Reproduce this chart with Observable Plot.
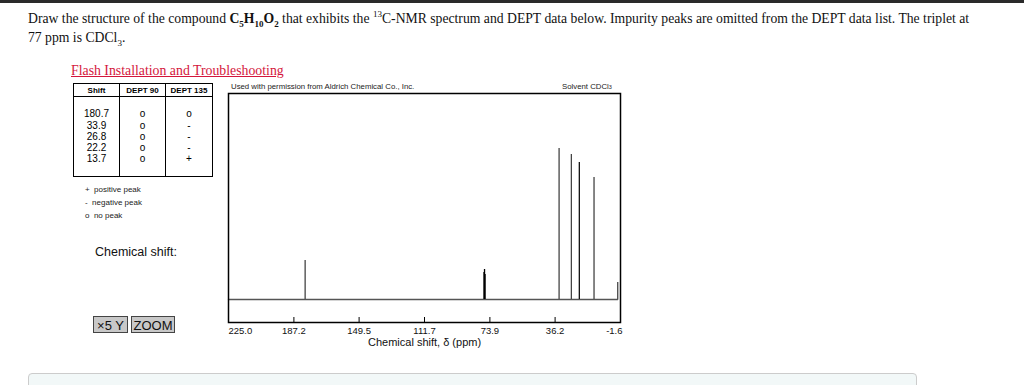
<!DOCTYPE html>
<html><head><meta charset="utf-8">
<script src="https://cdn.jsdelivr.net/npm/d3@7"></script>
<script src="https://cdn.jsdelivr.net/npm/@observablehq/plot@0.6"></script>
<style>
  html,body{margin:0;padding:0;background:#fff;width:1024px;height:385px;overflow:hidden;position:relative;}
  .abs{position:absolute;white-space:nowrap;}
  #topbar{position:absolute;left:0;top:0;width:1024px;height:3px;background:#2a2a2a;}
  .q{font-family:"Liberation Serif","Times New Roman",serif;font-size:13.7px;color:#111;left:28px;}
  #flash{left:71px;top:63px;font-family:"Liberation Serif",serif;font-size:13.8px;color:#d4163c;text-decoration:underline;}
  table.dept{position:absolute;left:73px;top:83px;border-collapse:collapse;font-family:"Liberation Sans",Arial,sans-serif;border:1px solid #000;}
  table.dept th{font-size:8px;font-weight:bold;height:12px;padding:0;border:1px solid #000;}
  table.dept td{font-size:10px;text-align:center;padding:0;height:11.3px;line-height:11.3px;border-left:1px solid #000;border-right:1px solid #000;}
  .leg{font-family:"Liberation Sans",Arial,sans-serif;font-size:8px;color:#222;left:85px;}
  #cs{left:95px;top:245px;font-family:"Liberation Sans",Arial,sans-serif;font-size:12.5px;color:#111;}
  .btn{position:absolute;top:316px;height:17px;line-height:17px;background:#c8c8c8;border:1px solid #444;font-family:"Liberation Sans",Arial,sans-serif;font-size:13px;text-align:center;color:#111;box-sizing:border-box;}
  .small{font-family:"Liberation Sans",Arial,sans-serif;font-size:7.8px;color:#222;}
  #chart{position:absolute;left:200px;top:80px;}
  #xt{left:368px;top:336px;font-family:"Liberation Sans",Arial,sans-serif;font-size:11px;color:#111;}
  #answer{position:absolute;left:28px;top:373px;width:887px;height:30px;background:#f2f8f8;border:1px solid #ccc;border-radius:4px;}
</style></head>
<body>
<div id="topbar"></div>
<div class="abs q" style="top:9px;">Draw the structure of the compound <b>C<sub style="font-size:9px">5</sub>H<sub style="font-size:9px">10</sub>O<sub style="font-size:9px">2</sub></b> that exhibits the <sup style="font-size:9px">13</sup>C-NMR spectrum and DEPT data below. Impurity peaks are omitted from the DEPT data list. The triplet at</div>
<div class="abs q" style="top:30px;">77 ppm is CDCl<sub style="font-size:9px">3</sub>.</div>
<div class="abs" id="flash">Flash Installation and Troubleshooting</div>
<table class="dept" id="tbl"></table>
<div class="abs leg" style="top:185px;">+&nbsp; positive peak</div>
<div class="abs leg" style="top:198px;">-&nbsp; negative peak</div>
<div class="abs leg" style="top:211px;">o&nbsp; no peak</div>
<div class="abs" id="cs">Chemical shift:</div>
<div class="btn" style="left:93px;width:35px;">×5 Y</div>
<div class="btn" style="left:131px;width:44px;">ZOOM</div>
<div class="abs small" style="left:231px;top:82px;">Used with permission from Aldrich Chemical Co., Inc.</div>
<div class="abs small" style="left:562px;top:82px;">Solvent CDCl<span style="font-size:5.5px">3</span></div>
<div id="chart"></div>
<div class="abs" id="xt">Chemical shift, δ (ppm)</div>
<div id="answer"></div>
<script>
// DEPT table data
const tableHeaders = ["Shift", "DEPT 90", "DEPT 135"];
const shifts = ["180.7", "33.9", "26.8", "22.2", "13.7"];
const dept90 = ["o", "o", "o", "o", "o"];
const dept135 = ["o", "-", "-", "-", "+"];

// Spectrum peaks (ppm, relative intensity)
const peakShifts  = [180.7, 77.3, 77.0, 76.7, 33.9, 26.8, 22.2, 13.7, 0.0];
const peakHeights = [39, 27, 30, 25, 151, 145, 137, 122, 17];
const peakColors  = ["#444", "#000", "#000", "#000", "#444", "#444", "#111", "#444", "#444"];
const baselineShifts = [225.0, 0.0];
const tickValues = [225.0, 187.2, 149.5, 111.7, 73.9, 36.2, -1.6];
const tickLabels = ["225.0", "187.2", "149.5", "111.7", "73.9", "36.2", "-1.6"];

// table
const tbl = document.getElementById("tbl");
const widths = [45, 45, 46];
let html = "<tr>" + tableHeaders.map((h,i)=>`<th style="width:${widths[i]}px">${h}</th>`).join("") + "</tr>";
html += `<tr><td style="height:5px;line-height:5px"></td><td></td><td></td></tr>`;
shifts.forEach((s,i)=>{ html += `<tr><td>${s}</td><td>${dept90[i]}</td><td>${dept135[i]}</td></tr>`; });
html += `<tr><td style="height:3px;line-height:3px"></td><td></td><td></td></tr>`;
tbl.innerHTML = html;

const peaks = peakShifts.map((p,i)=>({ppm:p, h:peakHeights[i], c:peakColors[i]}));
const base = baselineShifts.map(p=>({ppm:p, h:0}));

const plot = Plot.plot({
  width: 440, height: 282,
  marginLeft: 28, marginRight: 20, marginTop: 13, marginBottom: 40,
  style: {fontFamily: "'Liberation Sans', Arial, sans-serif", fontSize: "9.5px", color: "#111", background: "transparent"},
  x: {domain: [225, -1.6]},
  y: {domain: [-23, 206], axis: null},
  marks: [
    Plot.line(base, {x: "ppm", y: "h", stroke: "#555", strokeWidth: 1.3}),
    Plot.ruleX(peaks, {x: "ppm", y1: 0, y2: "h", stroke: "c", strokeWidth: 1.3}),
    Plot.frame({stroke: "#000", strokeWidth: 1.5}),
    Plot.axisX(tickValues, {tickSize: -5, tickPadding: 10, tickFormat: (d,i)=>tickLabels[i], label: null, stroke:"#000"})
  ]
});
document.getElementById("chart").appendChild(plot);
const texts = d3.select(plot).selectAll("g[aria-label='x-axis tick label'] text").nodes();
if (texts.length) {
  texts[0].setAttribute("text-anchor", "start");
  texts[0].setAttribute("dx", "0");
  texts[texts.length-1].setAttribute("text-anchor", "end");
  texts[texts.length-1].setAttribute("dx", "2");
}
</script>
</body></html>
